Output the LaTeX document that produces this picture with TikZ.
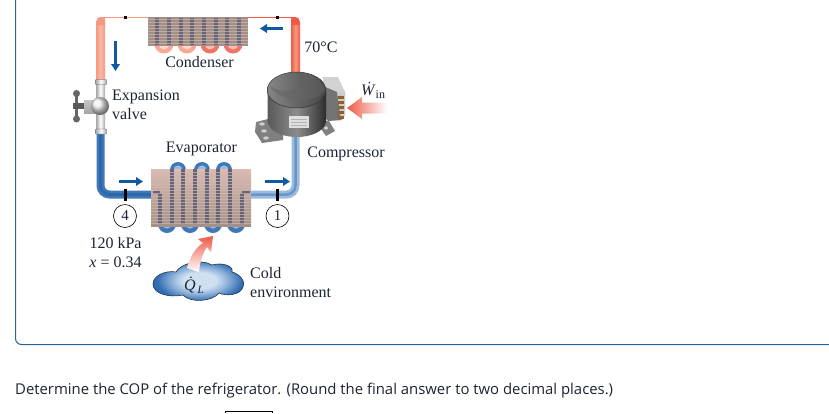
\documentclass[tikz,border=0pt]{standalone}
\usepackage{fontspec}
\setmainfont{Liberation Serif}
\newfontfamily\qfont{Open Sans}
\usetikzlibrary{arrows.meta,calc,shapes.geometric}
\definecolor{ink}{HTML}{1B2433}
\definecolor{flowblue}{HTML}{0F5AA5}
\definecolor{framec}{HTML}{2A6496}
\definecolor{fin}{HTML}{A38F86}
\definecolor{finlight}{HTML}{CDB9AE}
\definecolor{tubec}{HTML}{66647A}
\definecolor{coldpipe}{HTML}{3F78B8}
\definecolor{coldcore}{HTML}{2E66AA}
\definecolor{lightpipe}{HTML}{9DBBDD}
\definecolor{salmon}{HTML}{F59A80}
\definecolor{hotred}{HTML}{EE5A48}
\definecolor{metal}{HTML}{A8ABAF}
\definecolor{cloudblue}{HTML}{2F6DB0}
\definecolor{cloudlight}{HTML}{CFE0F1}
\definecolor{cloudmid}{HTML}{8FB3DA}
\pgfdeclareradialshading{cloudsh}{\pgfpoint{0bp}{0bp}}{color(0bp)=(cloudlight); color(9bp)=(cloudlight); color(15bp)=(cloudmid); color(23bp)=(cloudblue); color(50bp)=(cloudblue)}
\tikzset{
  x=1pt,y=-1pt,
  lab/.style={font=\fontsize{16}{18}\selectfont,text=ink,inner sep=0pt},
  flowarrow/.style={draw=flowblue,line width=2.2pt,-{Triangle[length=7pt,width=8.5pt]}},
  tick/.style={draw=black,line width=2.4pt},
  state/.style={circle,draw=black,line width=.6pt,minimum size=23pt,inner sep=0pt,font=\fontsize{15}{17}\selectfont,text=ink,fill=white},
  tubeline/.style={draw=tubec,line width=3.6pt},
  flange/.style={draw=gray!70!black,line width=.3pt,rounded corners=.6pt},
}
\begin{document}
\begin{tikzpicture}
\useasboundingbox (0,0) rectangle (829,413);
% frame
\draw[framec,line width=1pt,rounded corners=6pt] (15.5,0) -- (15.5,344.5) -- (829,344.5);
% pipes hot
\shade[left color=salmon,right color=salmon,middle color=salmon!70!white] (96,23) rectangle (105,82);
\fill[salmon] (96,25) -- (96,22) .. controls (96,19) and (98,17) .. (102,17) -- (105,17) -- (105,25) -- cycle;
\draw[salmon,line width=1.4pt] (104,17.3) -- (150,17.3);
\shade[left color=hotred,right color=hotred,middle color=salmon] (291,23) rectangle (300,80);
\fill[hotred] (300,25) -- (300,22) .. controls (300,19) and (298,17) .. (294,17) -- (291,17) -- (291,25) -- cycle;
\draw[hotred,line width=1.4pt] (248,17.3) -- (292,17.3);
% pipes cold
\draw[coldpipe,line width=8pt,rounded corners=9pt] (100.5,130) -- (100.5,194.5) -- (152,194.5);
\draw[coldcore,line width=3pt,rounded corners=9pt] (100.5,130) -- (100.5,194.5) -- (152,194.5);
\draw[lightpipe,line width=8pt,rounded corners=9pt] (250,194.5) -- (295.5,194.5) -- (295.5,130);
\draw[coldpipe!55!lightpipe,line width=2.5pt,rounded corners=9pt] (250,194.5) -- (295.5,194.5) -- (295.5,130);
% ticks
\fill[black] (123.5,15.5) rectangle (127,19);
\fill[black] (276,15.5) rectangle (279,19);
\coordinate (p4) at (125.5,188.5); \coordinate (p4b) at (125.5,200.5);
\coordinate (p1) at (277.5,188.5); \coordinate (p1b) at (277.5,200.5);
\draw[tick] (p4) -- (p4b);
\draw[tick] (p1) -- (p1b);
% condenser coils
\foreach \c/\col in {164/salmon,187/salmon,210/hotred,233/hotred}{
  \fill[\col!85!white] (\c-9.5,44) arc[start angle=180,end angle=0,radius=9.5] -- cycle;
  \fill[\col!40!white] (\c-5.5,44) arc[start angle=180,end angle=0,radius=5.5] -- cycle;
}
% condenser block
\fill[fin] (148,17) rectangle (248,46);
\foreach \x in {157,169,181,192,204,216,227,239}{\draw[tubeline] (\x,18) -- (\x,45);}
\foreach \y in {19,22,...,44}{\draw[finlight,line width=.9pt,opacity=.7] (148,\y) -- (248,\y);}
% evaporator coils
\foreach \c in {178,202,224}{
  \fill[coldpipe] (\c-8,170) arc[start angle=180,end angle=360,radius=8] -- cycle;
  \fill[lightpipe] (\c-4.6,170) arc[start angle=180,end angle=360,radius=4.6] -- cycle;
}
\foreach \c in {167,190,213,236}{
  \fill[coldpipe] (\c-9,224) arc[start angle=180,end angle=0,radius=9] -- cycle;
  \fill[lightpipe] (\c-4.6,224) arc[start angle=180,end angle=0,radius=4.6] -- cycle;
}
% evaporator block
\shade[top color=finlight!70!pink,bottom color=fin] (151,169) rectangle (251,226);
\foreach \x in {172,183,195,207,218,230}{\draw[tubeline] (\x,169) -- (\x,224);}
\foreach \x in {160,242}{\draw[tubeline] (\x,193) -- (\x,224);}
\draw[tubec,line width=3pt] (153,192.5) -- (160,192.5);
\draw[tubec,line width=3pt] (242,192.5) -- (250,192.5);
\foreach \y in {172,175,...,224}{\draw[finlight,line width=.8pt,opacity=.7] (151,\y) -- (251,\y);}
% valve
\draw[gray!80!black,line width=3pt,line cap=round] (76.5,95) -- (76.5,118);
\fill[gray!80!black] (76.5,93.5) circle (3.5pt);
\fill[gray!80!black] (76.5,119) circle (3.5pt);
\draw[gray!70!black,line width=6pt] (73,106) -- (84,106);
\shade[top color=gray!45,bottom color=gray!70] (84,100) rectangle (96,113);
\shade[left color=gray!70,right color=gray!70,middle color=white] (96,82) rectangle (105,131);
\shade[flange,left color=gray!70,right color=gray!70,middle color=white] (95.5,79.5) rectangle (106.5,84.5);
\shade[flange,left color=gray!70,right color=gray!70,middle color=white] (95.5,129) rectangle (106.5,134);
\shade[ball color=gray!15] (100,106) circle (9pt);
% compressor box
\fill[gray!35] (323,77) -- (338,77) -- (345,92) -- (345,115) -- (328,121) -- (323,115) -- cycle;
\fill[gray!90!black] (323,86) -- (337,92) -- (345,92) -- (342,120) -- (328,121) -- (323,115) -- cycle;
\fill[gray!40] (337,92) -- (345,92) -- (345,115) -- (341,120) -- cycle;
\foreach \y in {96,101,...,116}{\fill[brown!75!black] (338,\y) rectangle (344,\y+3);}
% feet
\fill[gray] (256,122) -- (272,118) -- (283,130) -- (283,140) -- (262,143) -- (255,132) -- cycle;
\foreach \p in {(262,124),(264,131),(266,138)}{\fill[gray!35] \p ellipse (2.8pt and 1.6pt);}
\fill[gray] (316,122) -- (329,121) -- (335,131) -- (326,136) -- cycle;
\fill[gray!35] (326,128) ellipse (2pt and 1.6pt);
% compressor body
\shade[left color=gray!70!black,right color=gray!35!black,middle color=gray!90] (267.5,90) -- (267.5,122) .. controls (270,133) and (285,137) .. (297,137) .. controls (310,137) and (324,132) .. (326,122) -- (326,90) -- cycle;
\node[ellipse,minimum width=58.5pt,minimum height=36pt,inner sep=0pt,draw=gray!40!black,line width=.5pt,left color=gray!95,right color=gray!55!black] (comp) at (296.5,90) {};
\fill[gray!80!black,opacity=.55] (270,86) .. controls (278,103) and (315,105) .. (325,90) .. controls (322,80) and (312,74) .. (303,73) .. controls (308,90) and (285,96) .. (270,86) -- cycle;
\fill[gray!25] (289,116) rectangle (309,128);
\foreach \y in {119,122,125}{\draw[gray!60,line width=.6pt] (291,\y) -- (307,\y);}
% Win arrow
\shade[left color=hotred,right color=white] (347,108) -- (362,97) -- (362,102.5) -- (387,102.5) -- (387,113.5) -- (362,113.5) -- (362,119) -- cycle;
% cloud
\shade[draw=ink!80!cloudblue,line width=.6pt,shading=cloudsh]
 (153,284) .. controls (153,276) and (165,270) .. (176,272)
 .. controls (180,264) and (200,258) .. (212,265)
 .. controls (222,262) and (234,266) .. (232,272)
 .. controls (240,274) and (246,282) .. (243,287)
 .. controls (240,296) and (225,296) .. (219,293)
 .. controls (212,302) and (190,303) .. (183,295)
 .. controls (170,298) and (153,294) .. (153,284) -- cycle;
% QL arrow
\shade[top color=hotred,bottom color=white] (213,236) -- (211,252) -- (207,247) .. controls (203,252) and (200,262) .. (199,272) -- (187,268) .. controls (190,257) and (195,248) .. (203,243) -- (198,239) -- cycle;
% flow arrows
\coordinate (a1s) at (115.5,41); \coordinate (a1e) at (115.5,71);
\coordinate (a2s) at (283,28.5); \coordinate (a2e) at (260,28.5);
\coordinate (a3s) at (119,181.5); \coordinate (a3e) at (143,181.5);
\coordinate (a4s) at (265,181.5); \coordinate (a4e) at (290,181.5);
\draw[flowarrow] (a1s) -- (a1e);
\draw[flowarrow] (a2s) -- (a2e);
\draw[flowarrow] (a3s) -- (a3e);
\draw[flowarrow] (a4s) -- (a4e);
% states
\node[state] (s4) at (125,216) {4};
\node[state] (s1) at (277.5,216) {1};
% labels
\node[lab] (cond) at (199.5,62) {Condenser};
\node[lab,anchor=west] (exp1) at (112,97) {Expansion};
\node[lab,anchor=west] (exp2) at (112,114.5) {valve};
\node[lab] (evap) at (201.5,148.5) {Evaporator};
\node[lab] (compl) at (346,153.5) {Compressor};
\node[lab] (temp) at (321,47) {70°C};
\node[lab,anchor=west] (win) at (361,90) {\textit{\.W}\raisebox{-3pt}{\fontsize{12}{12}\selectfont in}};
\node[lab] (pr) at (115.5,243) {120 kPa};
\node[lab] (qual) at (115.5,262) {\textit{x} = 0.34};
\node[lab] (ql) at (194,285) {\textit{\.Q}\kern-2.5pt\raisebox{-3pt}{\fontsize{11}{11}\selectfont\textit{L}}};
\node[lab,anchor=west] (cold1) at (250,273) {Cold};
\node[lab,anchor=west] (cold2) at (250,292) {environment};
% question
\node[anchor=west,inner sep=0pt,font=\qfont\fontsize{14.88}{16}\selectfont,text=ink] (q) at (15,391) {Determine the COP of the refrigerator. (Round the final answer to two decimal places.)};
\draw[black,line width=.8pt] (225,413) -- (225,411.5) -- (272,411.5) -- (272,413);
\end{tikzpicture}
\end{document}
